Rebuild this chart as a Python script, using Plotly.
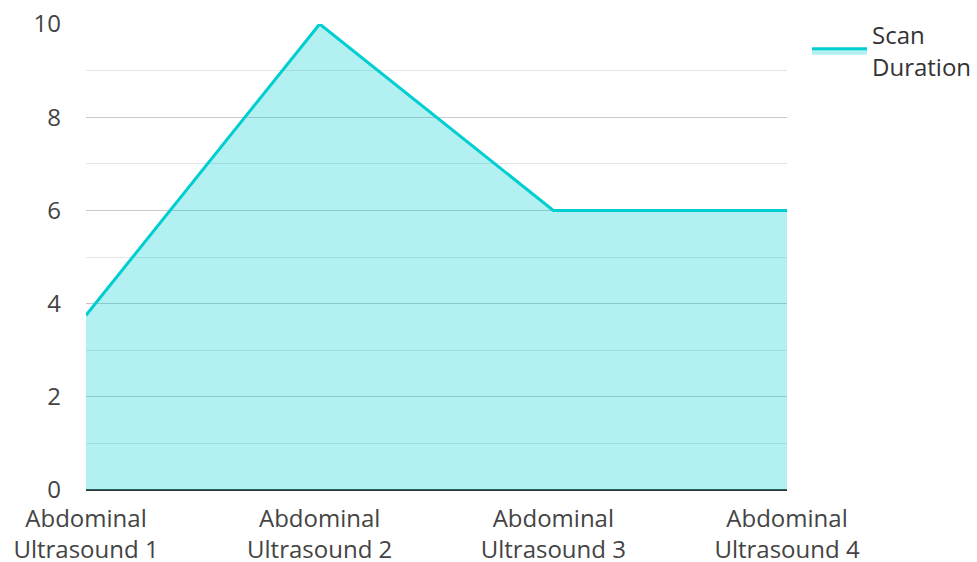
import plotly.graph_objects as go

# Scan duration per abdominal ultrasound
categories = ["Abdominal<br>Ultrasound 1", "Abdominal<br>Ultrasound 2",
              "Abdominal<br>Ultrasound 3", "Abdominal<br>Ultrasound 4"]
scan_duration = [3.75, 10, 6, 6]
y_ticks = [0, 2, 4, 6, 8, 10]

fig = go.Figure()
fig.add_trace(go.Scatter(
    x=categories,
    y=scan_duration,
    mode="lines",
    name="Scan<br>Duration",
    line=dict(color="#00CED1", width=3),
    fill="tozeroy",
    fillcolor="rgba(0,206,209,0.3)",
))

fig.update_layout(
    width=977,
    height=562,
    margin=dict(l=86, r=190, t=24, b=72),
    paper_bgcolor="white",
    plot_bgcolor="white",
    font=dict(family="Open Sans, Noto Sans, sans-serif", size=24, color="#444"),
    showlegend=True,
    legend=dict(xref="container", yref="container",
                x=0.826, y=0.977, xanchor="left", yanchor="top",
                font=dict(size=24, color="#333"), tracegroupgap=0,
                itemwidth=55),
    xaxis=dict(
        range=[0, 3],
        showgrid=False,
        showline=False,
        ticks="",
        automargin=False,
        ticklabelstandoff=12,
        tickfont=dict(size=24, color="#444"),
    ),
    yaxis=dict(
        range=[0, 10],
        tickvals=y_ticks,
        showgrid=True,
        gridcolor="#c8c8c8",
        gridwidth=1,
        zeroline=True,
        zerolinecolor="#333",
        zerolinewidth=2,
        ticks="",
        automargin=False,
        ticklabelstandoff=24,
        tickfont=dict(size=24, color="#444"),
        minor=dict(dtick=1, tick0=0, showgrid=True, gridcolor="#e6e6e6", gridwidth=1),
    ),
)

fig.write_html("out.html")
